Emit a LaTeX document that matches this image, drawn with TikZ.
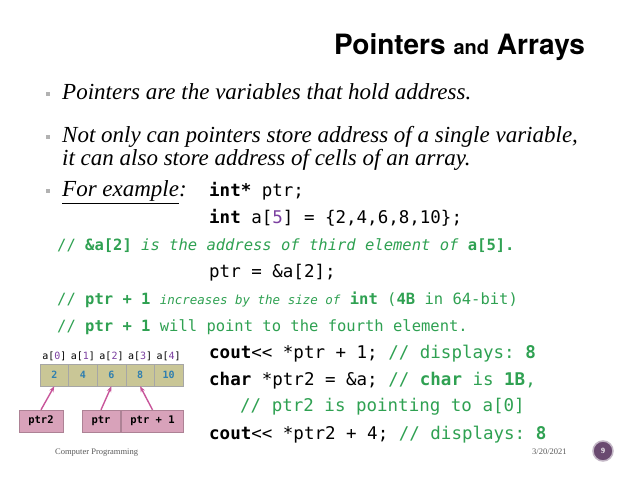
\documentclass[tikz,border=0pt]{standalone}
\usepackage{fontspec}
\setmainfont{Liberation Serif}
\setmonofont{DejaVu Sans Mono}
\newfontfamily\titlefont{TeX Gyre Heros}
\usetikzlibrary{arrows.meta}
\definecolor{cgreen}{HTML}{2FA152}
\definecolor{cpurple}{HTML}{7B3FA0}
\definecolor{cellfill}{HTML}{C9C696}
\definecolor{numblue}{HTML}{2F7FB0}
\definecolor{pinkbox}{HTML}{D8A2BA}
\definecolor{arrowpink}{HTML}{C8559A}
\definecolor{badge}{HTML}{6A4A70}
\tikzset{
  txt/.style={anchor=base west, inner sep=0pt},
  code/.style={txt, font=\fontsize{17.5}{20}\selectfont\ttfamily},
  scode/.style={txt, font=\fontsize{15.5}{18}\selectfont\ttfamily},
  bul/.style={txt, font=\fontsize{23}{26}\selectfont\itshape},
  bmark/.style={fill=gray!60, minimum size=4pt, inner sep=0pt},
  cell/.style={draw=gray!70, fill=cellfill, minimum width=28.6pt, minimum height=22pt, inner sep=0pt, font=\fontsize{10}{12}\selectfont\ttfamily\bfseries\color{numblue}},
  idx/.style={inner sep=0pt, font=\fontsize{10}{12}\selectfont\ttfamily},
  pbox/.style={fill=pinkbox, draw=pinkbox!80!black, minimum height=22pt, inner sep=2pt, font=\fontsize{10.5}{12}\selectfont\ttfamily\bfseries},
  parrow/.style={-{Stealth[length=6pt]}, arrowpink, line width=1.4pt}
}
\newcommand{\kw}[1]{\textbf{#1}}
\newcommand{\cm}[1]{\textcolor{cgreen}{#1}}
\begin{document}
\begin{tikzpicture}[x=1pt,y=-1pt]
\useasboundingbox[fill=white] (0,0) rectangle (638,478);
% title
\node[txt] (title) at (334,55) {\titlefont\bfseries\fontsize{28}{30}\selectfont Pointers {\fontsize{20}{22}\selectfont and} Arrays};
% bullets
\node[bmark] (m1) at (48,94) {};
\node[bul] (b1) at (62,100) {Pointers are the variables that hold address.};
\node[bmark] (m2) at (48,137) {};
\node[bul] (b2) at (62,143) {Not only can pointers store address of a single variable,};
\node[bul] (b2b) at (62,166) {it can also store address of cells of an array.};
\node[bmark] (m3) at (48,191) {};
\node[bul] (b3) at (62,197) {\underline{For example}:};
% code
\node[code] (c1) at (209,197) {\kw{int*} ptr;};
\node[code] (c2) at (209,224) {\kw{int} a[\textcolor{cpurple}{5}] = \{2,4,6,8,10\};};
\node[scode] (c3) at (57,251) {\cm{// \textbf{\&a[2]} \textit{is the address of third element of} \textbf{a[5].}}};
\node[code] (c4) at (209,278) {ptr = \&a[2];};
\node[scode] (c5) at (57,305) {\cm{// \textbf{ptr + 1} {\fontsize{12.5}{14}\selectfont\itshape increases by the size of} \textbf{int} (\textbf{4B} in 64-bit)}};
\node[scode] (c6) at (57,332) {\cm{// \textbf{ptr + 1} will point to the fourth element.}};
\node[code] (c7) at (209,359) {\kw{cout}<< *ptr + 1; \cm{// displays: \textbf{8}}};
\node[code] (c8) at (209,386) {\kw{char} *ptr2 = \&a; \cm{// \textbf{char} is \textbf{1B},}};
\node[code] (c9) at (240,412) {\cm{// ptr2 is pointing to a[0]}};
\node[code] (c10) at (209,440) {\kw{cout}<< *ptr2 + 4; \cm{// displays: \textbf{8}}};
% array
\foreach \i/\v in {0/2,1/4,2/6,3/8,4/10}{
  \node[cell] (e\i) at ({54.3+28.6*\i},375) {\v};
  \node[idx] (l\i) at ({54.3+28.6*\i},356) {a[\textcolor{cpurple}{\i}]};
}
\node[pbox, minimum width=44pt] (p2) at (41,421) {ptr2};
\node[pbox, minimum width=38pt] (p) at (101,421) {ptr};
\node[pbox, minimum width=62pt] (p1) at (152.5,421) {ptr + 1};
\draw[parrow] (p2.north) -- (e0.south);
\draw[parrow] (p.north) -- (e2.south);
\draw[parrow] (p1.north) -- (e3.south);
% footer
\node[txt, font=\fontsize{8.5}{11}\selectfont, text=gray!70!black] (foot) at (55,455) {Computer Programming};
\node[txt, font=\fontsize{8.5}{10}\selectfont, text=gray!70!black] (date) at (532,455) {3/20/2021};
\node[circle, fill=badge, draw=badge!40, line width=1.5pt, minimum size=20pt, inner sep=0pt, text=white, font=\fontsize{8}{10}\selectfont\bfseries] (pg) at (603,451) {9};
\end{tikzpicture}
\end{document}
